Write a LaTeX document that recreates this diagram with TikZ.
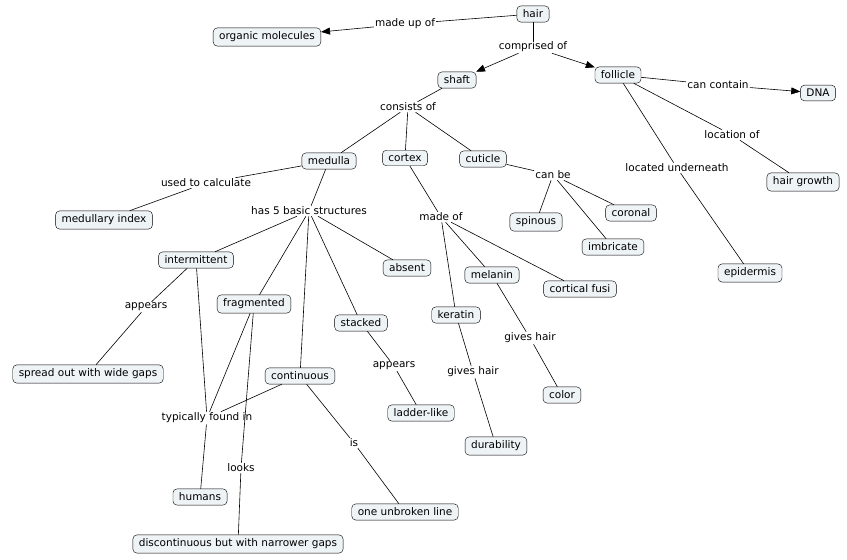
\documentclass[tikz,border=0pt]{standalone}
\usepackage{fontspec}
\setmainfont{DejaVu Sans}
\usetikzlibrary{arrows.meta}
\begin{document}
\begin{tikzpicture}[x=1pt,y=-1pt,
 c/.style={draw=black,fill=cfill,rounded corners=4pt,inner xsep=6pt,inner ysep=4pt,font=\fontsize{10.5}{12}\selectfont},
 l/.style={fill=white,inner sep=1pt,font=\fontsize{10.5}{12}\selectfont},
 ln/.style={draw=black,line width=0.6pt},
 ar/.style={ln,-{Triangle[length=9pt,width=7pt]}}]
\definecolor{cfill}{HTML}{EEF3F5}
\useasboundingbox (0,0) rectangle (847,560);
\node[c] (hair) at (533,14) {hair};
\node[c] (org) at (267,37) {organic molecules};
\node[c] (shaft) at (457,80) {shaft};
\node[c] (foll) at (618,75) {follicle};
\node[c] (dna) at (818,93) {DNA};
\node[c] (med) at (329,161) {medulla};
\node[c] (cor) at (405,158) {cortex};
\node[c] (cut) at (483,159) {cuticle};
\node[c] (hg) at (803,182) {hair growth};
\node[c] (mi) at (104,220) {medullary index};
\node[c] (spi) at (536,222) {spinous};
\node[c] (coro) at (631,213) {coronal};
\node[c] (imb) at (613,247) {imbricate};
\node[c] (int) at (196,260) {intermittent};
\node[c] (abs) at (407,268) {absent};
\node[c] (epi) at (750,273) {epidermis};
\node[c] (mel) at (492,275) {melanin};
\node[c] (cf) at (580,289) {cortical fusi};
\node[c] (frag) at (254,304) {fragmented};
\node[c] (ker) at (456,315) {keratin};
\node[c] (sta) at (361,323) {stacked};
\node[c] (spr) at (88,374) {spread out with wide gaps};
\node[c] (cont) at (300,376) {continuous};
\node[c] (col) at (562,395) {color};
\node[c] (lad) at (421,413) {ladder-like};
\node[c] (dur) at (496,446) {durability};
\node[c] (hum) at (200,497) {humans};
\node[c] (one) at (405,512) {one unbroken line};
\node[c] (dis) at (238,544) {discontinuous but with narrower gaps};
\node[l] (l1) at (405,24) {made up of};
\node[l] (l2) at (533,47) {comprised of};
\node[l] (l3) at (718,85) {can contain};
\node[l] (l4) at (408,107) {consists of};
\node[l] (l5) at (732,135) {location of};
\node[l] (l6) at (677,168) {located underneath};
\node[l] (l7) at (206,183) {used to calculate};
\node[l] (l8) at (553,175) {can be};
\node[l] (l9) at (309,211) {has 5 basic structures};
\node[l] (l10) at (441,217) {made of};
\node[l] (l11) at (146,307) {appears};
\node[l] (l12) at (530,338) {gives hair};
\node[l] (l13) at (394,366) {appears};
\node[l] (l14) at (473,372) {gives hair};
\node[l] (l15) at (207,418) {typically found in};
\node[l] (l16) at (354,443) {is};
\node[l] (l17) at (241,468) {looks};
\begin{scope}[on background layer/.try]
\end{scope}
\draw[ln] (hair) -- (l1); \draw[ar] (l1) -- (org);
\draw[ln] (hair) -- (l2); \draw[ar] (l2) -- (shaft); \draw[ar] (l2) -- (foll);
\draw[ln] (foll) -- (l3); \draw[ar] (l3) -- (dna);
\draw[ln] (foll) -- (l5) -- (hg);
\draw[ln] (foll) -- (l6) -- (epi);
\draw[ln] (shaft) -- (l4); \draw[ln] (l4) -- (med); \draw[ln] (l4) -- (cor); \draw[ln] (l4) -- (cut);
\draw[ln] (med) -- (l7) -- (mi);
\draw[ln] (med) -- (l9);
\foreach \t in {int,frag,cont,sta,abs} \draw[ln] (l9) -- (\t);
\draw[ln] (cut) -- (l8);
\foreach \t in {spi,imb,coro} \draw[ln] (l8) -- (\t);
\draw[ln] (cor) -- (l10);
\foreach \t in {ker,mel,cf} \draw[ln] (l10) -- (\t);
\draw[ln] (int) -- (l11) -- (spr);
\draw[ln] (int) -- (l15); \draw[ln] (frag) -- (l15); \draw[ln] (cont) -- (l15); \draw[ln] (l15) -- (hum);
\draw[ln] (frag) -- (l17) -- (dis);
\draw[ln] (mel) -- (l12) -- (col);
\draw[ln] (ker) -- (l14) -- (dur);
\draw[ln] (sta) -- (l13) -- (lad);
\draw[ln] (cont) -- (l16) -- (one);
\end{tikzpicture}
\end{document}
